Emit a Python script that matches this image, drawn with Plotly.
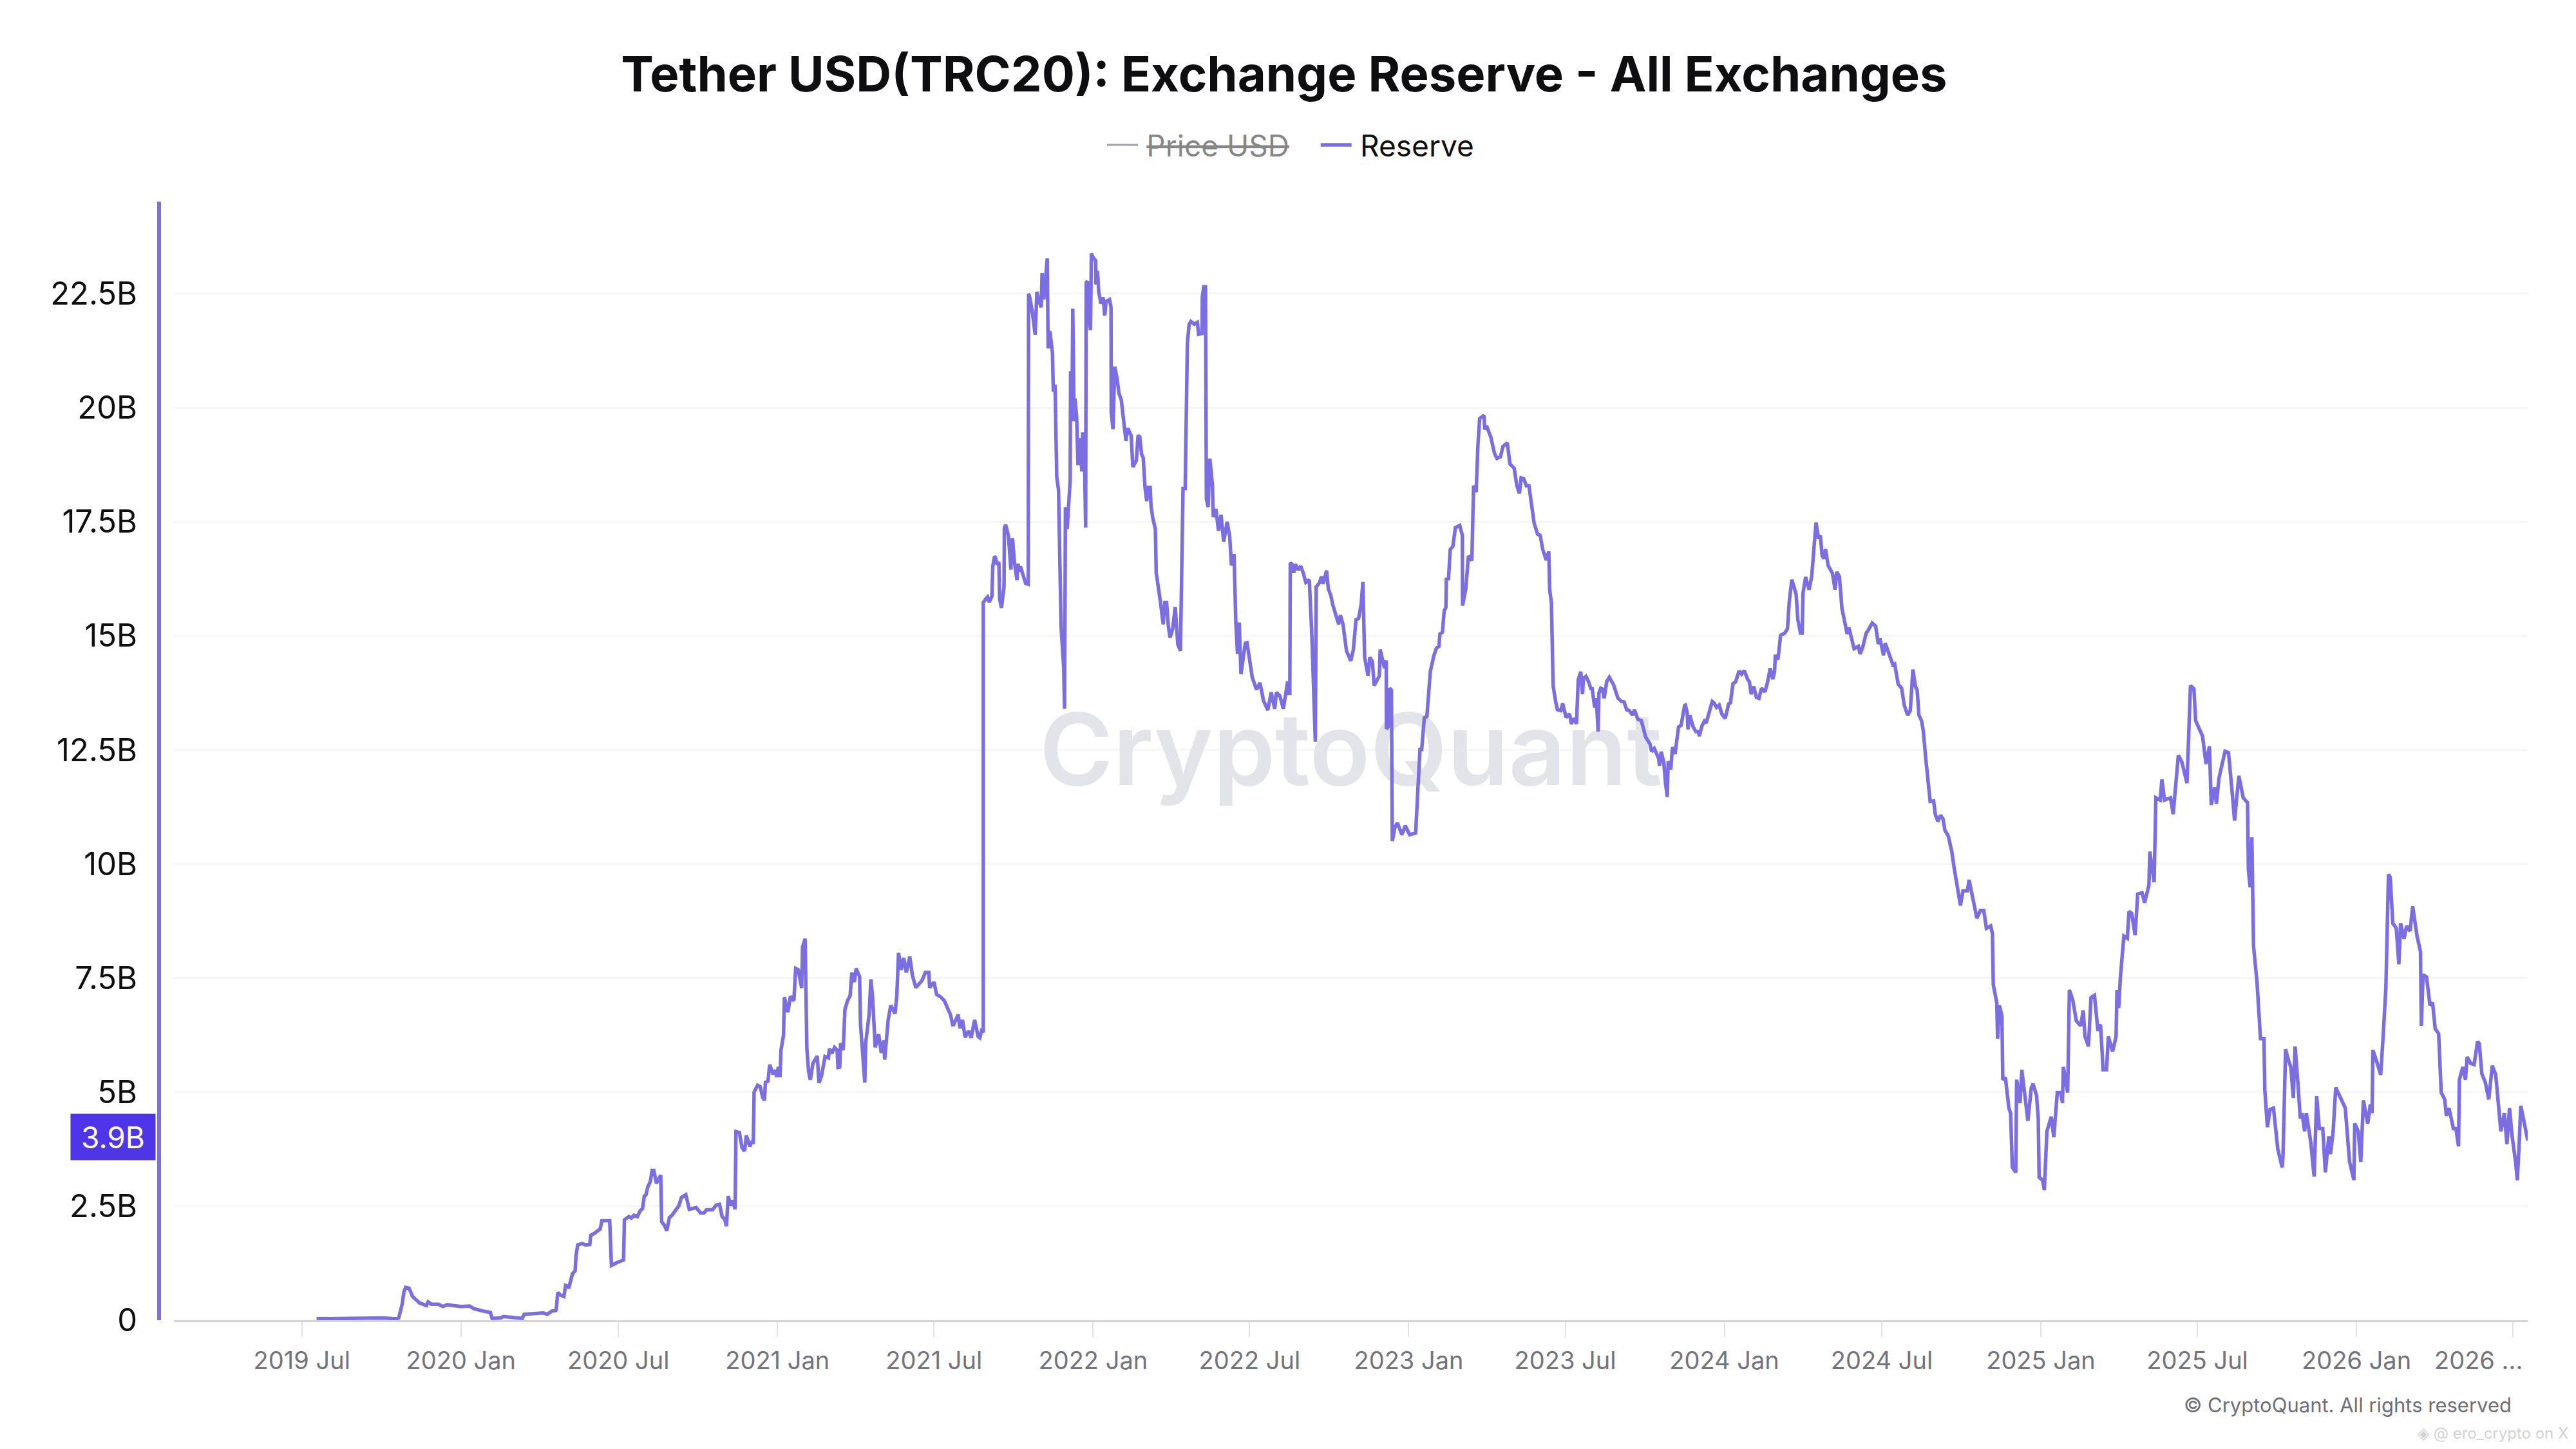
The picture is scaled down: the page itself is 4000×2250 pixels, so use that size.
import pandas as pd
import plotly.graph_objects as go

BASE_DATE = pd.Timestamp("2020-01-01")

# (days since 2020-01-01, reserve in billions of USDT)
reserve_2019_2020 = [(-167,.03),(-137,.04),(-90,.05),(-75,.03),(-72,.05),(-68,.35),(-66,.62),(-64,.72),(-60,.70),(-56,.52),(-48,.38),(-40,.32),(-38,.40),(-34,.35),(-26,.35),(-21,.30),(-16,.34),(-9,.32),(0,.30),(10,.31),(15,.25),(26,.2),(34,.17),(36,.04),(46,.05),(49,.08),(57,.06),(71,.04),(73,.13),(86,.15),(95,.16),(100,.13),(105,.2),(109,.21)]
reserve_2020_2021 = [(110,.22),(112,.61),(115,.55),(119,.52),(121,.76),(125,.73),(129,1.02),(132,1.08),(133,1.41),(135,1.65),(140,1.68),(144,1.65),(149,1.66),(150,1.86),(154,1.9),(161,2.0),(163,2.18),(172,2.18),(174,1.2),(180,1.26),(184,1.29),(188,1.32),(189,2.2),(194,2.27),(197,2.24),(200,2.3),(204,2.27),(207,2.39),(210,2.45),(212,2.72),(214,2.75),(216,2.92),(219,3.04),(221,3.28),(223,3.28),(225,3.04),(226,3.0),(231,3.18),(232,2.16),(235,2.09),(238,1.96),(241,2.25),(244,2.3),(252,2.51),(255,2.69),(260,2.75),(264,2.43),(272,2.47),(277,2.35),(281,2.35),(284,2.42),(291,2.42),(295,2.52),(299,2.54),(302,2.27),(305,2.21),(307,2.06),(309,2.72),(312,2.51),(314,2.63),(317,2.43),(318,4.13),(322,4.11),(325,3.78),(328,3.71),(330,4.05),(334,3.81),(337,3.93),(338,3.86),(339,5.0),(343,5.15),(346,5.12),(349,4.88),(351,4.82),(352,5.21),(355,5.24),(357,5.6),(361,5.39),(364,5.48),(365,5.33),(367,5.55),(369,5.33),(370,5.91),(373,6.25),(374,7.08),(378,6.75),(381,7.1),(385,7.0),(387,7.71),(390,7.68),(394,7.28),(395,8.18),(398,8.36),(400,5.95),(402,5.45),(404,5.27),(407,5.63),(412,5.79),(414,5.2),(417,5.36),(421,5.78),(425,5.75),(426,5.95),(429,5.85),(432,5.98),(435,5.92),(436,5.54),(438,5.55),(439,6.07),(442,5.92),(444,6.81),(447,7.0),(450,7.11),(452,7.62),(455,7.41),(457,7.71),(461,7.53),(462,6.49),(467,5.21),(468,6.07),(472,6.7),(474,7.47),(476,7.08),(479,5.98),(483,6.27),(486,5.86),(489,6.13),(490,5.71),(494,6.58),(497,6.9),(502,6.72),(504,7.11),(506,8.05),(509,7.68),(512,7.94),(515,7.62),(519,7.97),(522,7.56),(526,7.29),(533,7.44),(537,7.62),(541,7.62),(542,7.29),(547,7.41),(550,7.14),(555,7.08),(559,7.0),(566,6.7),(569,6.45),(575,6.7),(577,6.4),(580,6.58),(583,6.2),(587,6.34),(590,6.19),(594,6.58),(598,6.22),(600,6.19),(602,6.34),(604,6.31)]
reserve_2021_2022 = [(604,15.73),(607,15.81),(609,15.85),(611,15.74),(614,15.87),(615,16.52),(617,16.74),(618,16.72),(620,16.56),(622,16.62),(623,15.8),(625,15.61),(628,16.07),(628.4,17.37),(630,17.43),(633,17.2),(636,16.45),(637,17.13),(638,17.1),(640,16.62),(643,16.22),(644,16.58),(646,16.41),(647,16.52),(650,16.35),(653,16.15),(656,16.13),(656.4,22.5),(658,22.4),(661,22.06),(664,21.6),(666,22.54),(668,22.37),(671,22.2),(672,22.95),(674,22.37),(676,22.8),(678,23.27),(679,21.3),(681,21.68),(684,21.2),(685,20.35),(687,20.5),(688,19.08),(689,18.47),(691,18.2),(692,17.03),(694,15.2),(697,14.3),(698,13.4),(699,17.82),(701,17.34),(703,17.95),(704.5,18.4),(705,20.8),(706.5,19.7),(707.5,22.17),(709,19.7),(710,20.2),(712,19.8),(713.5,18.74),(715,19.32),(716,19.28),(718,18.6),(719,19.46),(721,18.95),(722.4,17.37),(723,22.74),(724.6,22.77),(726,21.95),(728,21.7),(729,23.38),(731,23.29),(734,23.22),(734.3,22.7),(736,23.0),(737.5,22.54),(740,22.28),(742.5,22.42),(744.5,22.02),(746,22.33),(750,22.37),(751.7,22.2),(752,19.9),(754,19.53),(756,20.9),(758.6,20.65),(761,20.31),(763.6,20.17),(766,19.76),(769,19.27),(771,19.55),(775,19.39),(777,18.7),(781,18.84),(783,19.39),(785,19.36),(787,18.98),(789,18.9),(791,18.26),(793,17.95),(795,18.25),(797,18.25),(798,17.85),(800,17.58),(803,17.34),(804,16.38),(809,15.73),(812,15.25),(814,15.73),(816,15.73),(818,15.22),(820,14.96),(823,15.15),(825,15.63),(826,15.63),(829,14.81),(832,14.67),(835,18.23),(837.5,18.23),(840,21.4),(842,21.82),(844,21.89),(848,21.83),(851.6,21.87),(853,21.61),(857,21.63),(857.3,22.43),(859,22.65),(861,22.65),(862,18.0),(864,17.82),(866,18.88),(869,18.3),(870,17.6),(873,17.78),(876,17.3),(879,17.65),(882,17.06),(886,17.5),(889,17.17),(891,16.54),(894,16.79),(896,15.32),(898,14.6),(900,15.29),(902,14.16),(907,14.84),(909,14.85),(912,14.43),(915,14.09),(920,13.82),(924,13.97),(928,13.58),(933,13.37),(937,13.76),(941,13.4),(943,13.76),(947,13.68),(951,13.4)]
reserve_2022_2023 = [(956,14.0),(957,13.74),(958.5,13.74),(959,16.6),(961,16.57),(963,16.38),(965,16.57),(968,16.44),(971,16.53),(974,16.38),(977,16.17),(981,16.23),(984,15.0),(988,12.68),(989,16.07),(993,16.17),(995,16.3),(997,16.14),(1001,16.43),(1003,16.03),(1006,15.88),(1008,15.69),(1011,15.52),(1015,15.25),(1017,15.45),(1020,15.25),(1024,14.67),(1029,14.45),(1032,14.7),(1035,15.35),(1038,15.38),(1041,15.69),(1043,16.18),(1045,14.53),(1049,14.12),(1051,14.53),(1054,14.43),(1056,13.91),(1062,14.12),(1063,14.7),(1068,14.29),(1070,14.46),(1070.2,12.96),(1072,13.0),(1074,13.85),(1076,13.81),(1077,10.5),(1080,10.8),(1083,10.9),(1088,10.64),(1092,10.84),(1097,10.64),(1104,10.68),(1107,11.66),(1109,12.51),(1111,12.51),(1114,13.2),(1117,13.23),(1119,13.71),(1121,14.22),(1125,14.56),(1128,14.73),(1131,14.77),(1132,15.04),(1135,15.08),(1137,15.55),(1139,15.62),(1139.5,16.24),(1142,16.25),(1144,16.89),(1147,16.96),(1150,17.37),(1155,17.42),(1158,17.2),(1158.2,15.66),(1162,16.03),(1165,16.75),(1169,16.65),(1171,18.29),(1174,18.15),(1176,19.18),(1178,19.76),(1183,19.83),(1184,19.52),(1186,19.6),(1191,19.35),(1195,19.01),(1198,18.89),(1202,18.92),(1205,19.15),(1210,19.23),(1213,18.77),(1218,18.67),(1221,18.29),(1224,18.12),(1226,18.46),(1229,18.44),(1232,18.29),(1235,18.29),(1238,17.88),(1241,17.47),(1245,17.23),(1248,17.2),(1251,16.89),(1255,16.66),(1258,16.85),(1259,16.0),(1261,15.73)]
reserve_2023_2024 = [(1263,13.9),(1266,13.55),(1268,13.38),(1272,13.36),(1274,13.52),(1278,13.21),(1282,13.29),(1284,13.07),(1287,13.19),(1290,13.07),(1292,14.04),(1295,14.21),(1297,13.72),(1298,14.06),(1301,14.11),(1304,13.99),(1307,13.82),(1308,13.87),(1311,13.43),(1313,13.63),(1315,12.9),(1316,13.75),(1318,13.85),(1320,13.83),(1322,13.63),(1325,14.0),(1328,14.09),(1333,13.92),(1338,13.63),(1342,13.56),(1345,13.55),(1348,13.38),(1351,13.36),(1355,13.26),(1357,13.38),(1361,13.17),(1365,13.14),(1370,12.78),(1375,12.63),(1377,12.46),(1380,12.53),(1385,12.31),(1386,12.15),(1388,12.46),(1391,12.22),(1393,11.76),(1395,11.47),(1396,12.25),(1399,12.07),(1401,12.56),(1404,12.41),(1408,13.0),(1411,13.04),(1415,13.47),(1416,13.48),(1418,13.31),(1419,12.95),(1421,13.26),(1425,13.0),(1428,12.9),(1431,12.9),(1432,12.8),(1435,13.02),(1438,13.13),(1440,13.09),(1444,13.36),(1447,13.56),(1449,13.53),(1452,13.43),(1455,13.48),(1458,13.29),(1462,13.19),(1466,13.51),(1468,13.53),(1471,13.95),(1474,13.99),(1478,14.23),(1481,14.16),(1484,14.24),(1488,14.04),(1490,13.99),(1492,13.72),(1495,13.89),(1498,13.65),(1501,13.63),(1504,13.85),(1508,13.77),(1511,13.99),(1513,14.19),(1514,14.29),(1517,14.05),(1519,14.21),(1520,14.58),(1523,14.48),(1526,15.01),(1531,15.06),(1534,15.16),(1536,15.74),(1539,16.23),(1544,15.91),(1546,15.35),(1549,15.06),(1551,15.06),(1552,15.94),(1555,16.29),(1559,16.01),(1562,16.3),(1565,17.1),(1567,17.48),(1570,17.13),(1572,17.2),(1574,16.76),(1576,16.69),(1578,16.9),(1581,16.54),(1586,16.37),(1589,16.01),(1591,16.4),(1594,16.3),(1597,15.6),(1601,15.26),(1603,15.04),(1605,15.18),(1608,14.96),(1611,14.72),(1616,14.77),(1618,14.6),(1621,14.75),(1625,15.06),(1627,15.11),(1632,15.28),(1636,15.21),(1639,14.82),(1641,14.94),(1645,14.57),(1647,14.84),(1651,14.6),(1656,14.36),(1658,14.38),(1662,13.94),(1666,13.85),(1669,13.48),(1673,13.26),(1676,13.36),(1679,14.26),(1682,13.89),(1684,13.8),(1686,13.26),(1689,13.14),(1691,12.92),(1694,12.29),(1699,11.37),(1703,11.38),(1705,11.08),(1708,10.93),(1711,11.07),(1714,10.98),(1716,10.74),(1720,10.61)]
reserve_2024_2026 = [(1724,10.27),(1727,9.88),(1731,9.43),(1734,9.09),(1737,9.41),(1742,9.41),(1744,9.65),(1749,9.15),(1753,8.81),(1757,8.98),(1761,8.98),(1764,8.59),(1769,8.64),(1771,8.47),(1772,7.35),(1776,6.96),(1777,6.17),(1779,6.9),(1782,6.67),(1783,5.27),(1786,5.32),(1790,4.65),(1792,4.54),(1794,3.35),(1798,3.24),(1799,5.27),(1803,4.76),(1805,5.49),(1808,4.93),(1812,4.37),(1816,5.1),(1818,5.18),(1822,4.93),(1824,4.42),(1825,3.13),(1829,3.07),(1831,2.85),(1834,4.14),(1839,4.46),(1842,4.01),(1846,4.99),(1850,4.99),(1852,4.76),(1853,5.55),(1858,4.99),(1860,7.24),(1864,7.01),(1868,6.56),(1873,6.45),(1876,6.79),(1878,6.22),(1882,6.0),(1885,7.07),(1889,7.12),(1893,6.34),(1896,6.48),(1899,5.49),(1903,5.49),(1905,6.22),(1910,5.89),(1914,6.22),(1915,7.24),(1917,6.84),(1919,7.52),(1923,8.42),(1927,8.37),(1929,8.96),(1932,8.92),(1936,8.44),(1939,9.34),(1944,9.37),(1947,9.15),(1952,9.54),(1953,10.27),(1958,9.6),(1960,11.45),(1965,11.4),(1967,11.85),(1970,11.4),(1977,11.45),(1980,11.09),(1986,12.38),(1990,12.24),(1996,11.77),(2000,13.91),(2004,13.84),(2006,13.14),(2011,12.9),(2014,12.8),(2018,12.19),(2022,12.58),(2024,11.29),(2028,11.68),(2030,11.32),(2033,11.88),(2040,12.47),(2044,12.44),(2048,11.62),(2051,10.95),(2056,11.93),(2061,11.45),(2066,11.34),(2067,9.88),(2069,9.49),(2071,10.58),(2073,8.19),(2077,7.4),(2081,6.17),(2085,6.17),(2086,5.04),(2089,4.23),(2092,4.62),(2096,4.65),(2101,3.75),(2106,3.35),(2107,3.58),(2110,5.94),(2113,5.72),(2116,5.55),(2119,4.87),(2121,6.0),(2124,5.27),(2127,4.42),(2129,4.54),(2132,4.14),(2134,4.54),(2139,3.92),(2143,3.15),(2146,4.91),(2149,4.2),(2153,4.2),(2156,3.24),(2160,4.03),(2162,3.64),(2165,4.14),(2168,5.1),(2174,4.87),(2179,4.65),(2184,3.47),(2189,3.07),(2190,4.31),(2194,4.14),(2197,3.47),(2200,4.82),(2205,4.31),(2208,4.73),(2210,4.54),(2211,5.92),(2216,5.63),(2220,5.38),(2223,6.28),(2226,7.29),(2229,9.77),(2231,9.71),(2234,8.7),(2238,8.59),(2241,7.8),(2243,8.7),(2247,8.36),(2250,8.64),(2254,8.53),(2257,9.07),(2262,8.42),(2266,8.08),(2267,6.45),(2269,7.57),(2273,7.52),(2277,6.9),(2280,6.96),(2283,6.39),(2287,6.28),(2290,4.99),(2294,4.84),(2296,4.48),(2299,4.65),(2304,4.2),(2307,4.2),(2310,3.81),(2311,5.27),(2315,5.55),(2318,5.27),(2320,5.77),(2324,5.63),(2328,5.6),(2332,6.11),(2334,6.06),(2337,5.4),(2341,5.21),(2345,4.84),(2349,5.58),(2353,5.38),(2357,4.48),(2359,4.14),(2363,4.54),(2366,3.86),(2369,4.65),(2372,4.03),(2376,3.47),(2378,3.07),(2380,3.81),(2382,4.7),(2385,4.42),(2388,4.14),(2390,3.94)]

x_tick_dates = ["2019-07-01","2020-01-01","2020-07-01","2021-01-01","2021-07-01","2022-01-01","2022-07-01","2023-01-01","2023-07-01","2024-01-01","2024-07-01","2025-01-01","2025-07-01","2026-01-01","2026-07-01"]
x_tick_labels = ["2019 Jul","2020 Jan","2020 Jul","2021 Jan","2021 Jul","2022 Jan","2022 Jul","2023 Jan","2023 Jul","2024 Jan","2024 Jul","2025 Jan","2025 Jul","2026 Jan",""]
y_tick_values = [0,2.5,5,7.5,10,12.5,15,17.5,20,22.5]
y_tick_labels = ["0","2.5B","5B","7.5B","10B","12.5B","15B","17.5B","20B","22.5B"]
price_usd_dates = ["2019-07-01","2026-07-01"]
price_usd_values = [1.0,1.0]
current_label = "3.9B"
last_tick_label = "2026 ..."

points = reserve_2019_2020+reserve_2020_2021+reserve_2021_2022+reserve_2022_2023+reserve_2023_2024+reserve_2024_2026
reserve_dates = [BASE_DATE+pd.Timedelta(days=d) for d,_ in points]
reserve_values = [v for _,v in points]

W,H = 3984,2234   # the page keeps an 8 px body margin around the figure
FONT = "Inter"
PURPLE = "#7B6EE2"

def px(X): return (X-8)/W
def py(Y): return 1-(Y-8)/H

fig = go.Figure()
fig.add_trace(go.Scatter(x=[BASE_DATE+pd.Timedelta(days=1029)],y=[12.28],mode="text",text=["CryptoQuant"],
    textposition="middle center",textfont=dict(family=FONT,size=155,color="#E3E4EA",weight=600),
    showlegend=False,hoverinfo="skip"))
fig.add_trace(go.Scatter(x=price_usd_dates,y=price_usd_values,mode="lines",visible="legendonly",
    name='\u2009<span style="text-decoration:line-through">Price USD</span>\u00a0\u00a0\u00a0',line=dict(color="#40404a",width=3)))
fig.add_trace(go.Scatter(x=reserve_dates,y=reserve_values,mode="lines",name="\u2009Reserve",
    line=dict(color=PURPLE,width=5.5,shape="linear")))

fig.update_layout(
    width=W,height=H,margin=dict(l=0,r=0,t=0,b=0,pad=0),
    paper_bgcolor="white",plot_bgcolor="white",
    font=dict(family=FONT,color="#0E0E10"),
    title=dict(text="Tether USD(TRC20): Exchange Reserve - All Exchanges",x=px(1994),xanchor="center",
        y=py(115),yanchor="middle",xref="paper",yref="container",
        font=dict(family=FONT,size=76,color="#0E0E10",weight=700)),
    legend=dict(orientation="h",x=px(2004),xanchor="center",y=py(225),yanchor="middle",
        font=dict(family=FONT,size=46,color="#0E0E10"),itemwidth=48,bgcolor="rgba(0,0,0,0)",
        itemclick=False,itemdoubleclick=False),
    xaxis=dict(type="date",domain=[px(270),px(3925)],
        range=[BASE_DATE+pd.Timedelta(days=-332),BASE_DATE+pd.Timedelta(days=2390)],
        tickmode="array",tickvals=x_tick_dates,ticktext=x_tick_labels,
        showgrid=False,zeroline=False,showline=True,linecolor="#D4D4D8",linewidth=3,
        ticks="outside",ticklen=23,tickwidth=2,tickcolor="#E2E2E6",ticklabelstandoff=4,
        tickfont=dict(family=FONT,size=38,color="#73737D"),automargin=False,anchor="y"),
    yaxis=dict(domain=[py(2050),py(313)],range=[0,(2051-314)/70.85],
        tickmode="array",tickvals=y_tick_values,ticktext=y_tick_labels,
        showgrid=True,gridcolor="#F6F6F8",gridwidth=3,zeroline=False,
        showline=True,linecolor="#7D71D8",linewidth=6,anchor="free",position=px(247),side="left",
        ticks="",ticklabelstandoff=21,tickfont=dict(family=FONT,size=49,color="#0E0E10"),automargin=False),
    annotations=[
        dict(text=current_label,xref="paper",yref="paper",x=px(242),xanchor="right",y=py(1765),yanchor="middle",
             showarrow=False,bgcolor="#4F35E8",width=131,height=71,align="center",valign="middle",borderpad=0,
             font=dict(family=FONT,size=46,color="white")),
        dict(text=last_tick_label,xref="paper",yref="paper",x=px(3848),xanchor="center",y=py(2112),yanchor="middle",
             showarrow=False,font=dict(family=FONT,size=38,color="#73737D")),
        dict(text="© CryptoQuant. All rights reserved",xref="paper",yref="paper",x=px(3902),xanchor="right",y=py(2181),yanchor="middle",
             showarrow=False,font=dict(family=FONT,size=31,color="#6E6E78")),
        dict(text="◈ @ ero_crypto on X",xref="paper",yref="paper",x=px(3990),xanchor="right",y=py(2225),yanchor="middle",
             showarrow=False,font=dict(family=FONT,size=24,color="#D2D2D2")),
    ],
)
fig.write_html("out.html")
